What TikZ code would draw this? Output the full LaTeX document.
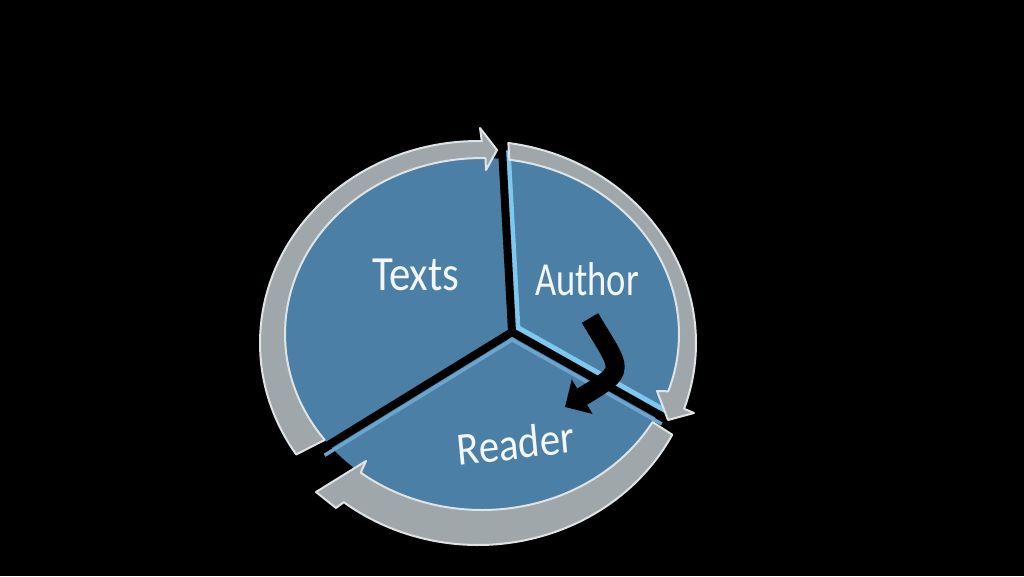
\documentclass[tikz,border=0pt]{standalone}
\usepackage{fontspec}
\setmainfont{Carlito}
\usetikzlibrary{arrows.meta,calc}
\definecolor{pieblue}{RGB}{75,127,165}
\definecolor{ringgray}{RGB}{160,167,171}
\definecolor{ringedge}{RGB}{222,227,230}
\definecolor{bevel}{RGB}{125,200,238}
\definecolor{bevelsoft}{RGB}{105,165,205}
\definecolor{labelwhite}{RGB}{244,247,250}
\begin{document}
\begin{tikzpicture}[x=0.1mm,y=-0.1mm,
  sector/.style={fill=pieblue},
  gapline/.style={draw=black,line width=0.8mm},
  bevelline/.style={draw=bevel,line width=0.5mm},
  softbevel/.style={draw=bevelsoft,line width=0.35mm},
  ringarrow/.style={fill=ringgray,draw=ringedge,line width=0.2mm,line join=round},
  txt/.style={text=labelwhite,inner sep=0pt,anchor=base},
  flow/.style={draw=black,line width=1.9mm,-{Triangle[width=3.9mm,length=2.0mm]}}]
\fill[black] (0,0) rectangle (1024,576);
\useasboundingbox (0,0) rectangle (1024,576);

% hub and gap ends
\coordinate (hub) at (512,332);
\coordinate (g1) at ({482+197*cos(276)},{334+176*sin(276)});
\coordinate (g2) at ({482+197*cos(141)},{334+176*sin(141)});
\coordinate (g3) at ({482+197*cos(27)},{334+176*sin(27)});
\coordinate (e1) at ($(hub)!1.05!(g1)$);
\coordinate (e2) at ($(hub)!1.04!(g2)$);
\coordinate (e3) at ($(hub)!1.05!(g3)$);

% sectors
\fill[sector] (hub) -- plot[domain=276:141,samples=60,variable=\t] ({482+197*cos(\t)},{334+176*sin(\t)}) -- cycle;
\fill[sector] (hub) -- plot[domain=276:387,samples=60,variable=\t] ({482+197*cos(\t)},{334+176*sin(\t)}) -- cycle;
\fill[sector] (hub) -- plot[domain=27:141,samples=60,variable=\t] ({482+197*cos(\t)},{334+176*sin(\t)}) -- cycle;

% bevel highlights
\draw[bevelline] ($(hub)+(6,-2)$) -- ($(e1)+(6,0)$);
\draw[bevelline] ($(hub)+(3,-6)$) -- ($(e3)+(3,-6)$);
\draw[softbevel] ($(hub)+(-3,6)$) -- ($(e3)+(-3,6)$);
\draw[softbevel] ($(hub)+(3,6)$) -- ($(e2)+(3,6)$);

% gaps
\draw[gapline] (hub) -- (e1);
\draw[gapline] (hub) -- (e2);
\draw[gapline] (hub) -- (e3);

% ring arrows
\filldraw[ringarrow] plot[domain=146.5:271,samples=60,variable=\t] ({478+218*cos(\t)},{343+202*sin(\t)})
  -- (480,128) -- (497,150) -- (486,170)
  -- plot[domain=271:143,samples=60,variable=\t] ({482+197*cos(\t)},{334+176*sin(\t)}) -- cycle;
\filldraw[ringarrow] plot[domain=278:379,samples=60,variable=\t] ({478+218*cos(\t)},{343+202*sin(\t)})
  -- (694,413) -- (668,420) -- (657,391)
  -- plot[domain=379:278,samples=60,variable=\t] ({482+197*cos(\t)},{334+176*sin(\t)}) -- cycle;
\filldraw[ringarrow] plot[domain=27:128,samples=60,variable=\t] ({478+218*cos(\t)},{343+202*sin(\t)})
  -- (336,508) -- (316,492) -- (366,461)
  -- plot[domain=128:30,samples=60,variable=\t] ({482+197*cos(\t)},{334+176*sin(\t)}) -- cycle;

% labels
\node[txt,font=\fontsize{14}{16}\selectfont,xscale=0.87] (texts) at (416,290.5) {Texts};
\node[txt,font=\fontsize{13.5}{16}\selectfont,xscale=0.77] (author) at (587,295) {Author};
\node[txt,font=\fontsize{13.2}{16}\selectfont,xscale=0.88,rotate=6] (reader) at (517,459) {Reader};

% author to reader arrow
\coordinate (fa) at (590,318);
\coordinate (fb) at (565,407);
\draw[flow] (fa) .. controls (622,372) and (628,369) .. (fb);
\end{tikzpicture}
\end{document}
